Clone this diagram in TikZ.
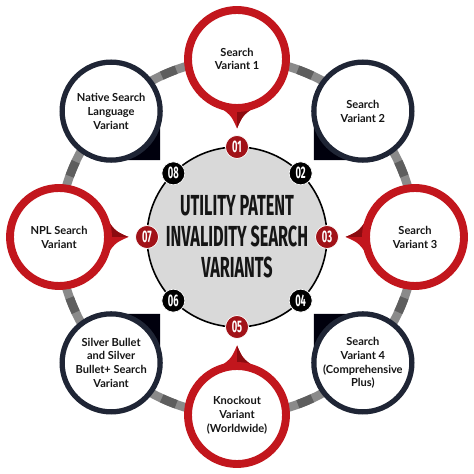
\documentclass[tikz,border=0pt]{standalone}
\usepackage{fontspec}
\setmainfont{Lato}
\newfontfamily\condfont[FakeStretch=0.56]{Fira Sans}
\usepackage{tikz}

\definecolor{varred}{HTML}{C2161D}
\definecolor{tailred}{HTML}{8C0B10}
\definecolor{badgered}{HTML}{A11218}
\definecolor{varnavy}{HTML}{1F2535}
\definecolor{ringgrey}{HTML}{8A8A8A}
\definecolor{ringdark}{HTML}{5E5E5E}
\definecolor{hubgrey}{HTML}{D9D9D9}
\definecolor{inktext}{HTML}{151515}

% red pin tail, #1 = angle of the circle, #2 = side that is darker
\newcommand{\redtail}[2]{%
  \begin{scope}[rotate=#1]
    \fill[varred] (2.17,0) .. controls (2.45,0.12) .. (2.71,0.53) -- (3.56,0) -- cycle;
    \fill[varred] (2.17,0) .. controls (2.45,-0.12) .. (2.71,-0.53) -- (3.56,0) -- cycle;
    \fill[tailred] (2.17,0) .. controls (2.45,#2*0.12) .. (2.71,#2*0.53) -- (2.9,0) -- cycle;
  \end{scope}}
% square corner of a navy circle, #1 = angle of the circle
\newcommand{\navycorner}[1]{%
  \begin{scope}[rotate=#1]
    \fill[black!95!blue] (3.56,0) -- ++(135:0.98) -- ++(-135:0.98) -- ++(-45:0.98) -- cycle;
  \end{scope}}

\begin{document}
\begin{tikzpicture}[
    variant/.style={circle,fill=white,inner sep=0pt,minimum size=1.96cm,
                    align=center,text=inktext,
                    font=\fontsize{6.3}{7.9}\selectfont\bfseries},
    redvar/.style={variant,draw=varred,line width=4.5pt},
    navyvar/.style={variant,draw=varnavy,line width=3pt},
    hub/.style={circle,draw=black,line width=0.9pt,fill=hubgrey,
                minimum size=3.6cm,inner sep=0pt,align=center,text=inktext,
                font=\condfont\bfseries\fontsize{16.5}{17.6}\selectfont},
    badge/.style={circle,draw=white,line width=0.4pt,inner sep=0pt,
                  minimum size=0.46cm,text=white,
                  font=\condfont\bfseries\fontsize{9.5}{10}\selectfont},
    oddbadge/.style={badge,fill=badgered},
    evenbadge/.style={badge,fill=black}
  ]
    \useasboundingbox (-4.74,-4.74) rectangle (4.74,4.74);
    % grey ring behind the circles
    \draw[ringgrey,line width=5pt] (0,0) circle (3.56);
    \foreach \a in {22.5,67.5,...,337.5}
      \draw[ringdark,line width=5pt] (\a-2.5:3.56) arc (\a-2.5:\a+2.5:3.56);
    % tails and corners
    \redtail{90}{-1}
    \redtail{0}{1}
    \redtail{-90}{1}
    \redtail{180}{-1}
    \navycorner{45}
    \navycorner{-45}
    \navycorner{-135}
    \navycorner{135}
    % centre
    \node[hub] (hub) at (0,0) {UTILITY PATENT\\INVALIDITY SEARCH\\VARIANTS};
    \node[oddbadge] (b1) at (90:1.8) {01};
    \node[evenbadge] (b2) at (45:1.8) {02};
    \node[oddbadge] (b3) at (0:1.8) {03};
    \node[evenbadge] (b4) at (-45:1.8) {04};
    \node[oddbadge] (b5) at (-90:1.8) {05};
    \node[evenbadge] (b6) at (-135:1.8) {06};
    \node[oddbadge] (b7) at (180:1.8) {07};
    \node[evenbadge] (b8) at (135:1.8) {08};
    % variants
    \node[redvar] (v1) at (90:3.56) {Search\\Variant 1};
    \node[navyvar] (v2) at (45:3.56) {Search\\Variant 2};
    \node[redvar] (v3) at (0:3.56) {Search\\Variant 3};
    \node[navyvar] (v4) at (-45:3.56) {Search\\Variant 4\\(Comprehensive\\Plus)};
    \node[redvar] (v5) at (-90:3.56) {Knockout\\Variant\\(Worldwide)};
    \node[navyvar] (v6) at (-135:3.56) {Silver Bullet\\and Silver\\Bullet+ Search\\Variant};
    \node[redvar] (v7) at (180:3.56) {NPL Search\\Variant};
    \node[navyvar] (v8) at (135:3.56) {Native Search\\Language\\Variant};
  \end{tikzpicture}
\end{document}
